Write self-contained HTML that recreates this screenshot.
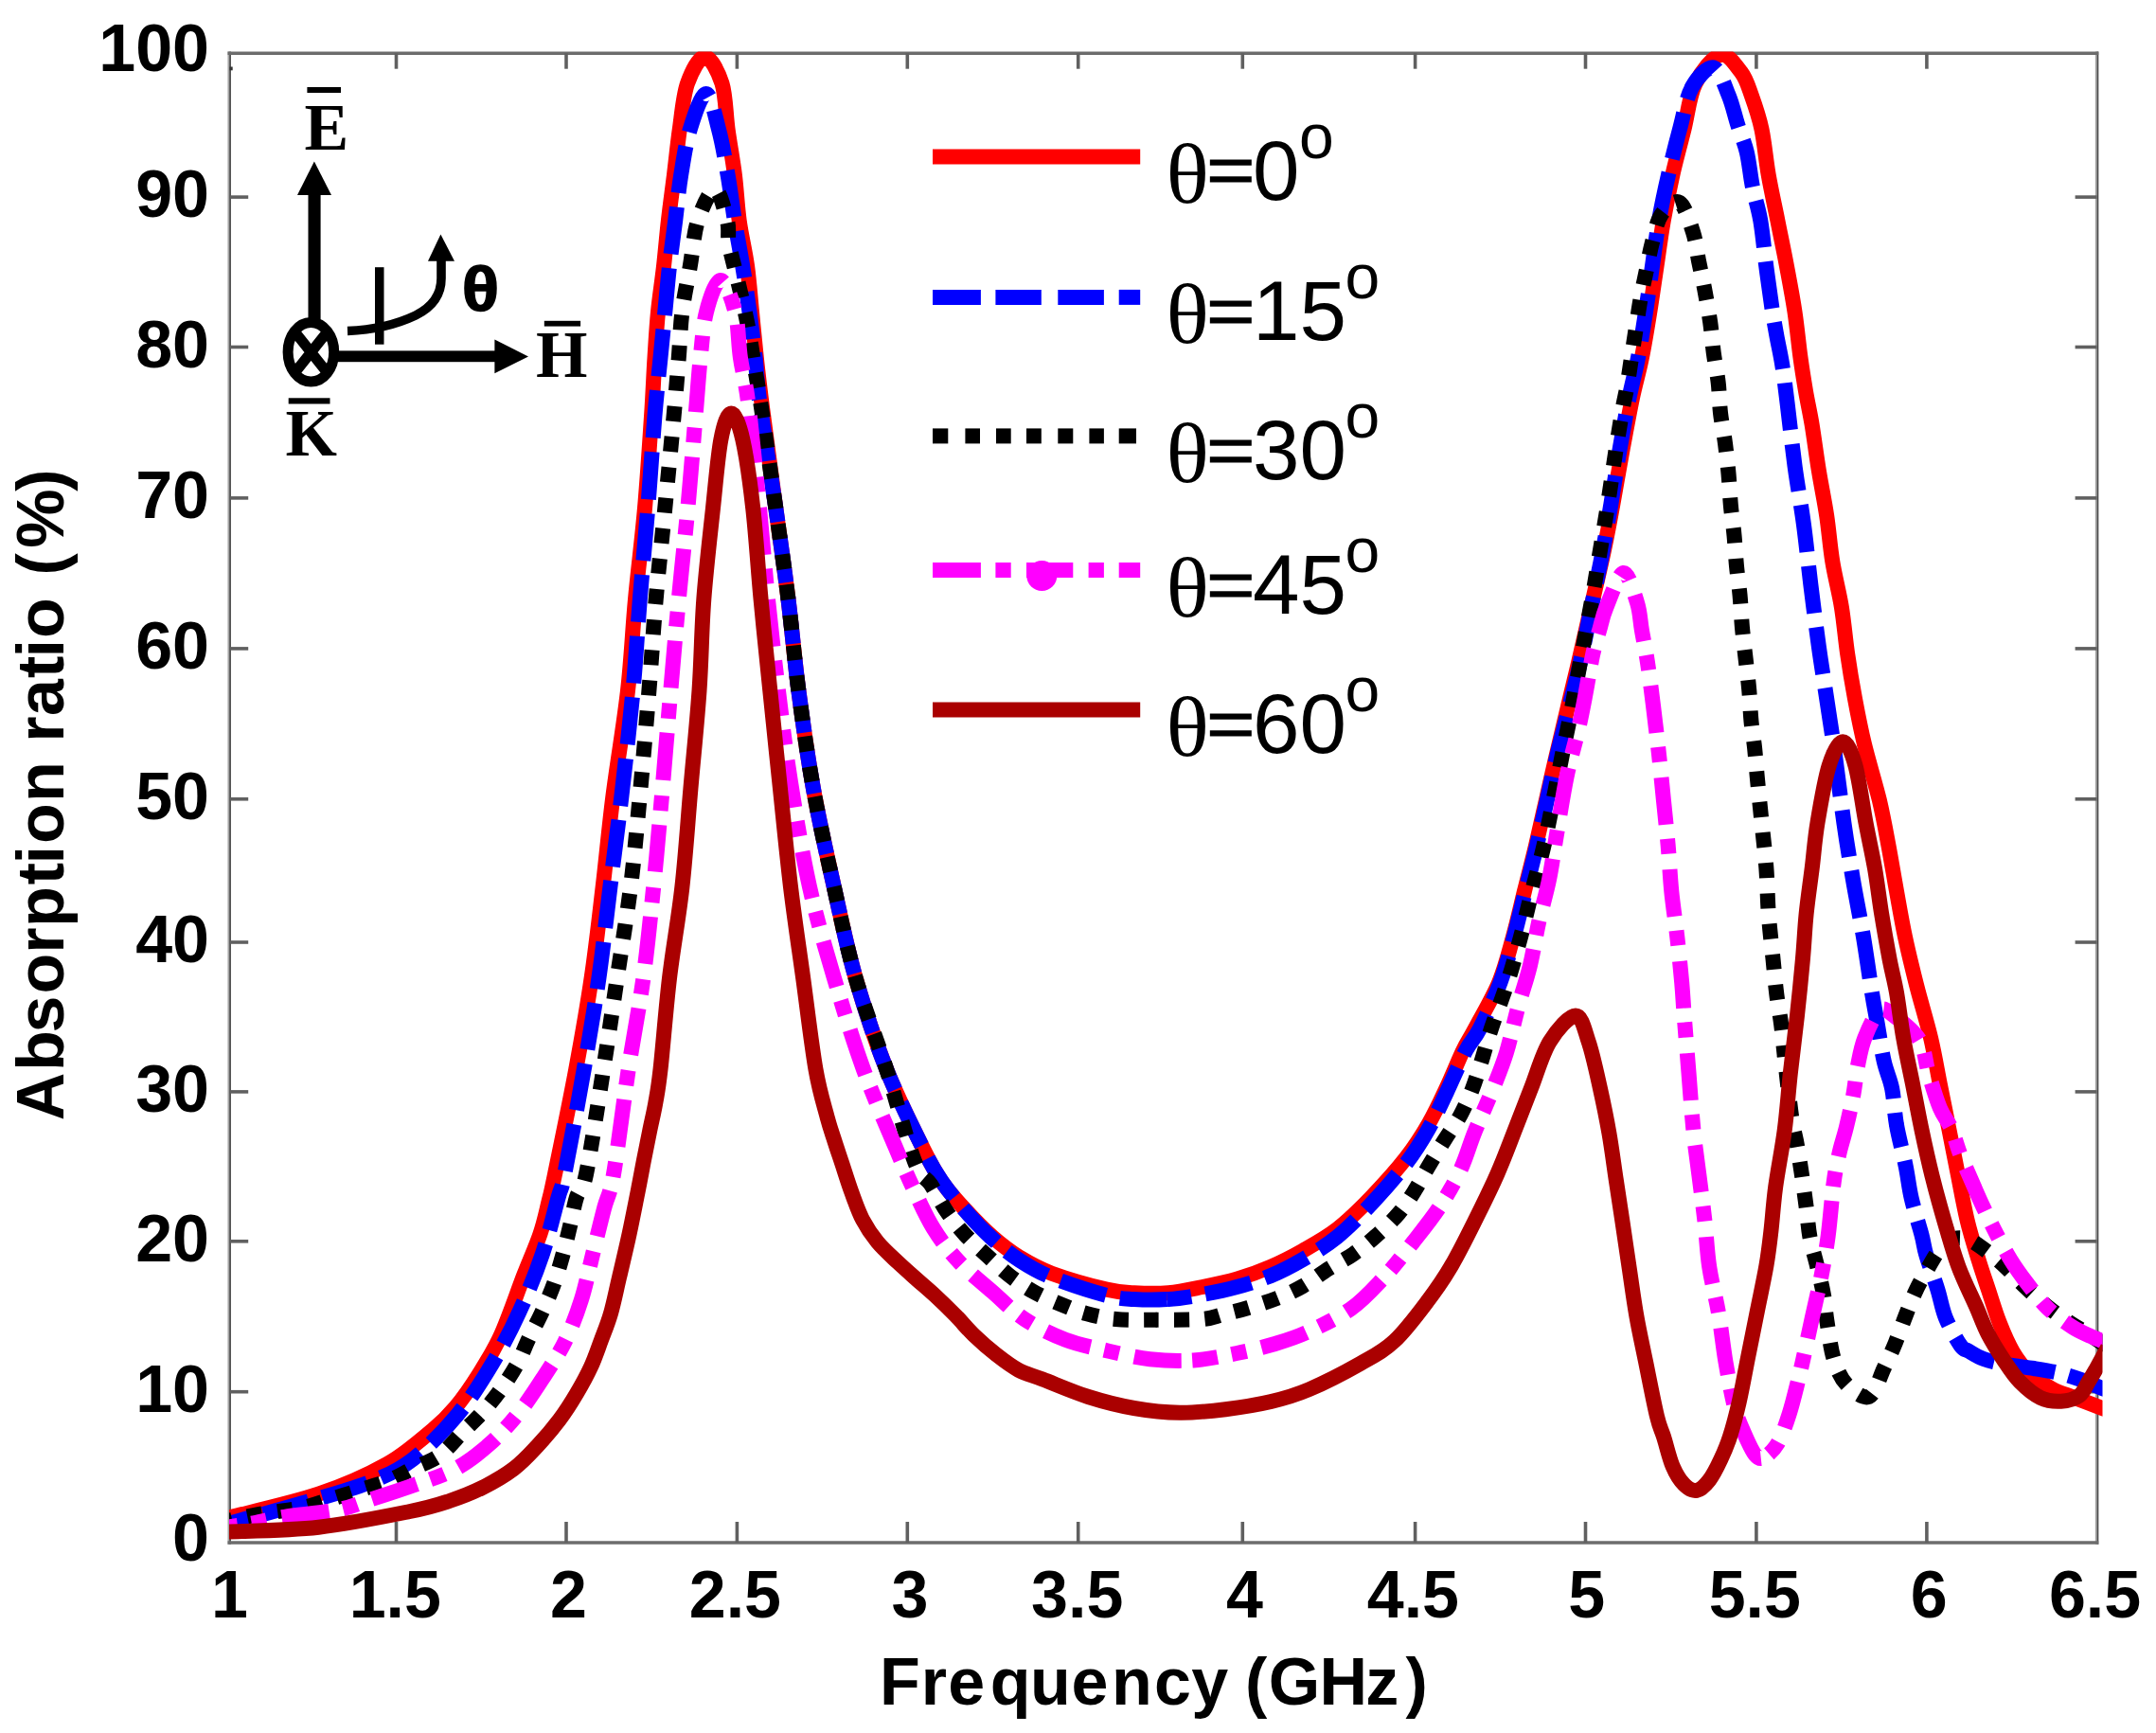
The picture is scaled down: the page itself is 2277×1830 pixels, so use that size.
<!DOCTYPE html>
<html><head><meta charset="utf-8"><title>Absorption ratio versus frequency</title>
<style>
html,body{margin:0;padding:0;background:#fff;}
svg{display:block;}
.b{font-family:"Liberation Sans",Arial,sans-serif;font-weight:bold;font-size:70px;fill:#000;}
.s{font-family:"Liberation Serif","Times New Roman",serif;font-weight:bold;font-size:70px;fill:#000;}
.lg{font-family:"Liberation Sans",Arial,sans-serif;font-size:89px;fill:#000;}
.th{font-family:"Liberation Serif","Times New Roman",serif;font-size:89px;fill:#000;}
.sup{font-family:"Liberation Sans",Arial,sans-serif;font-size:66px;fill:#000;}
.c{fill:none;stroke-width:16;stroke-linejoin:round;}
</style></head><body>
<svg width="2277" height="1830" viewBox="0 0 2277 1830">
<rect x="0" y="0" width="2277" height="1830" fill="#ffffff"/>
<defs><clipPath id="cp"><rect x="242" y="54.4" width="1978.5" height="1580"/></clipPath></defs>

<g stroke-width="1.8" fill="none">
<line x1="241.35" y1="54.5" x2="241.35" y2="1630.7" stroke="#a4a4a4"/>
<line x1="243.05" y1="54.5" x2="243.05" y2="1630.7" stroke="#4c4c4c"/>
<line x1="2213.75" y1="54.5" x2="2213.75" y2="1630.7" stroke="#a4a4a4"/>
<line x1="2215.45" y1="54.5" x2="2215.45" y2="1630.7" stroke="#4c4c4c"/>
</g>
<g stroke="#6c6c6c" stroke-width="3.4" fill="none">
<line x1="240.5" y1="56.2" x2="2216.3" y2="56.2"/>
<line x1="240.5" y1="1629.0" x2="2216.3" y2="1629.0"/>
</g>
<g stroke="#606060" stroke-width="3.6">
<line x1="418.5" y1="1629.0" x2="418.5" y2="1607.0"/>
<line x1="418.5" y1="56.2" x2="418.5" y2="72.7"/>
<line x1="598.0" y1="1629.0" x2="598.0" y2="1607.0"/>
<line x1="598.0" y1="56.2" x2="598.0" y2="72.7"/>
<line x1="778.4" y1="1629.0" x2="778.4" y2="1607.0"/>
<line x1="778.4" y1="56.2" x2="778.4" y2="72.7"/>
<line x1="958.3" y1="1629.0" x2="958.3" y2="1607.0"/>
<line x1="958.3" y1="56.2" x2="958.3" y2="72.7"/>
<line x1="1138.7" y1="1629.0" x2="1138.7" y2="1607.0"/>
<line x1="1138.7" y1="56.2" x2="1138.7" y2="72.7"/>
<line x1="1312.3" y1="1629.0" x2="1312.3" y2="1607.0"/>
<line x1="1312.3" y1="56.2" x2="1312.3" y2="72.7"/>
<line x1="1494.6" y1="1629.0" x2="1494.6" y2="1607.0"/>
<line x1="1494.6" y1="56.2" x2="1494.6" y2="72.7"/>
<line x1="1674.5" y1="1629.0" x2="1674.5" y2="1607.0"/>
<line x1="1674.5" y1="56.2" x2="1674.5" y2="72.7"/>
<line x1="1854.9" y1="1629.0" x2="1854.9" y2="1607.0"/>
<line x1="1854.9" y1="56.2" x2="1854.9" y2="72.7"/>
<line x1="2034.9" y1="1629.0" x2="2034.9" y2="1607.0"/>
<line x1="2034.9" y1="56.2" x2="2034.9" y2="72.7"/>
<line x1="242.2" y1="208.1" x2="262.2" y2="208.1"/>
<line x1="2214.6" y1="208.1" x2="2191.6" y2="208.1"/>
<line x1="242.2" y1="366.5" x2="262.2" y2="366.5"/>
<line x1="2214.6" y1="366.5" x2="2191.6" y2="366.5"/>
<line x1="242.2" y1="525.9" x2="262.2" y2="525.9"/>
<line x1="2214.6" y1="525.9" x2="2191.6" y2="525.9"/>
<line x1="242.2" y1="684.9" x2="262.2" y2="684.9"/>
<line x1="2214.6" y1="684.9" x2="2191.6" y2="684.9"/>
<line x1="242.2" y1="843.8" x2="262.2" y2="843.8"/>
<line x1="2214.6" y1="843.8" x2="2191.6" y2="843.8"/>
<line x1="242.2" y1="995.0" x2="262.2" y2="995.0"/>
<line x1="2214.6" y1="995.0" x2="2191.6" y2="995.0"/>
<line x1="242.2" y1="1152.9" x2="262.2" y2="1152.9"/>
<line x1="2214.6" y1="1152.9" x2="2191.6" y2="1152.9"/>
<line x1="242.2" y1="1310.8" x2="262.2" y2="1310.8"/>
<line x1="2214.6" y1="1310.8" x2="2191.6" y2="1310.8"/>
<line x1="242.2" y1="1469.7" x2="262.2" y2="1469.7"/>
<line x1="2214.6" y1="1469.7" x2="2191.6" y2="1469.7"/>
</g>
<rect x="242.5" y="70.5" width="3.2" height="3.8" fill="#333"/>
<g clip-path="url(#cp)">
<path class="c" stroke="#ff0000" d="M236.0,1604.0C236.7,1603.8 223.2,1607.4 240.0,1603.0C256.8,1598.6 308.4,1587.2 336.5,1577.7C364.6,1568.2 388.7,1557.3 408.8,1546.0C428.9,1534.7 444.9,1520.0 457.0,1510.0C469.1,1500.0 473.1,1495.7 481.2,1486.0C489.2,1476.3 497.3,1464.8 505.3,1452.0C513.3,1439.2 521.4,1426.7 529.4,1409.0C537.4,1391.3 546.6,1363.7 553.5,1346.0C560.4,1328.3 566.2,1315.8 570.5,1303.0C574.8,1290.2 576.9,1279.5 579.5,1269.0C582.1,1258.5 581.2,1263.3 586.0,1240.0C590.8,1216.7 601.8,1163.9 608.2,1129.4C614.6,1094.9 619.9,1065.2 624.6,1033.0C629.4,1000.9 632.9,968.7 636.7,936.5C640.5,904.3 643.1,874.5 647.5,840.0C651.9,805.5 659.1,763.9 663.0,729.4C666.9,694.9 668.0,665.1 671.0,633.0C674.0,600.9 678.2,568.7 681.0,536.5C683.8,504.3 686.2,466.5 688.0,440.0C689.8,413.5 690.3,396.1 691.5,377.7C692.7,359.3 693.4,345.5 695.0,329.4C696.6,313.3 699.2,297.3 701.0,281.2C702.8,265.1 704.1,249.1 705.9,233.0C707.7,216.9 710.0,200.8 712.0,184.7C714.0,168.6 715.5,152.6 717.8,136.5C720.1,120.4 721.5,101.0 726.0,88.2C730.5,75.5 738.4,60.0 744.5,60.0C750.6,60.0 758.5,75.5 762.5,88.2C766.5,101.0 766.4,120.4 768.6,136.5C770.8,152.6 773.9,168.6 775.9,184.7C777.9,200.8 778.5,216.9 780.7,233.0C782.9,249.1 786.9,265.1 789.1,281.2C791.3,297.3 792.4,313.3 794.0,329.4C795.6,345.5 797.0,360.9 798.8,377.7C800.6,394.5 801.6,403.5 805.0,430.0C808.4,456.5 814.7,502.7 819.3,536.5C823.9,570.3 828.5,600.9 832.5,633.0C836.5,665.1 839.0,696.1 843.4,729.4C847.8,762.7 852.8,798.5 859.0,833.0C865.2,867.5 873.3,903.2 880.8,936.5C888.2,969.8 894.5,1000.9 903.7,1033.0C913.0,1065.2 924.3,1099.2 936.3,1129.4C948.3,1159.7 966.0,1194.7 975.8,1214.5C985.6,1234.3 987.8,1237.8 995.0,1248.2C1002.2,1258.7 1010.4,1267.6 1019.2,1277.2C1028.0,1286.8 1038.4,1297.6 1048.0,1306.0C1057.6,1314.4 1066.5,1321.3 1077.0,1327.8C1087.5,1334.2 1095.5,1339.1 1110.8,1344.7C1126.1,1350.3 1154.2,1358.2 1168.7,1361.6C1183.2,1365.0 1186.9,1364.6 1197.7,1365.2C1208.5,1365.8 1221.8,1366.2 1233.8,1365.2C1245.8,1364.2 1257.9,1361.4 1270.0,1359.0C1282.1,1356.6 1294.1,1354.3 1306.2,1350.7C1318.3,1347.1 1330.8,1342.5 1342.4,1337.5C1354.0,1332.5 1364.3,1327.2 1376.0,1320.6C1387.7,1314.0 1400.3,1307.2 1412.4,1297.8C1424.5,1288.4 1436.5,1276.5 1448.5,1264.0C1460.5,1251.5 1474.7,1235.9 1484.7,1223.0C1494.8,1210.1 1501.6,1199.3 1508.8,1186.8C1516.0,1174.3 1522.0,1161.1 1528.0,1148.2C1534.0,1135.3 1540.0,1120.0 1545.0,1109.6C1550.0,1099.2 1551.7,1098.0 1558.0,1086.0C1564.3,1074.0 1576.3,1053.8 1583.0,1037.7C1589.7,1021.6 1593.5,1005.5 1598.0,989.4C1602.5,973.3 1606.0,957.1 1610.0,941.0C1614.0,924.9 1618.2,909.0 1622.0,893.0C1625.8,877.0 1629.3,860.8 1633.0,844.7C1636.7,828.6 1640.2,812.6 1644.0,796.5C1647.8,780.4 1651.7,764.1 1655.5,748.0C1659.3,731.9 1662.4,719.8 1667.0,700.0C1671.6,680.2 1678.7,648.8 1683.2,629.0C1687.7,609.2 1690.7,597.0 1694.0,581.0C1697.3,565.0 1700.0,550.8 1703.3,532.7C1706.6,514.6 1710.5,491.2 1714.0,472.4C1717.5,453.6 1720.7,435.8 1724.0,420.0C1727.3,404.2 1730.9,392.8 1733.9,377.7C1737.0,362.6 1739.7,345.5 1742.3,329.4C1744.9,313.3 1747.1,297.3 1749.5,281.2C1751.9,265.1 1754.0,249.1 1756.8,233.0C1759.6,216.9 1762.8,200.8 1766.4,184.7C1770.0,168.6 1774.5,152.6 1778.5,136.5C1782.5,120.4 1784.1,101.3 1790.5,88.2C1796.9,75.1 1809.0,60.0 1817.0,58.0C1825.0,56.0 1833.4,69.2 1838.8,76.2C1844.2,83.2 1846.0,90.2 1849.6,100.3C1853.2,110.3 1857.5,122.4 1860.5,136.5C1863.5,150.6 1864.9,168.6 1867.7,184.7C1870.5,200.8 1874.2,216.9 1877.4,233.0C1880.6,249.1 1884.0,265.1 1887.0,281.2C1890.0,297.3 1893.1,313.3 1895.5,329.4C1897.9,345.5 1899.6,363.8 1901.5,377.7C1903.4,391.6 1905.0,401.2 1907.0,413.0C1909.0,424.8 1911.3,434.3 1913.6,448.2C1915.9,462.1 1918.2,480.4 1920.8,496.5C1923.4,512.6 1926.8,528.6 1929.2,544.7C1931.6,560.8 1932.7,576.9 1935.3,593.0C1937.9,609.1 1942.3,625.1 1944.9,641.2C1947.5,657.3 1948.7,673.3 1951.0,689.4C1953.3,705.5 1956.0,721.6 1959.0,737.7C1962.0,753.8 1964.7,768.2 1969.0,786.0C1973.3,803.8 1980.5,826.9 1984.8,844.7C1989.0,862.5 1991.5,876.9 1994.5,893.0C1997.5,909.1 2000.1,925.1 2003.0,941.2C2005.9,957.3 2008.5,972.9 2012.0,989.4C2015.5,1005.9 2019.5,1022.1 2024.0,1040.0C2028.5,1057.8 2035.1,1079.0 2039.2,1096.5C2043.3,1114.0 2045.6,1128.6 2048.8,1144.7C2052.0,1160.8 2055.3,1176.9 2058.5,1193.0C2061.7,1209.1 2064.8,1225.1 2068.0,1241.2C2071.2,1257.3 2074.2,1274.4 2077.8,1289.4C2081.4,1304.4 2086.1,1318.9 2089.8,1331.0C2093.5,1343.1 2096.4,1351.1 2100.0,1362.0C2103.6,1372.9 2107.3,1385.5 2111.6,1396.5C2115.9,1407.5 2120.8,1419.0 2126.0,1427.8C2131.2,1436.6 2136.2,1443.1 2143.0,1449.5C2149.8,1455.9 2159.0,1462.0 2167.0,1466.4C2175.0,1470.8 2182.4,1472.6 2191.2,1476.0C2200.0,1479.4 2214.2,1484.8 2220.0,1487.0C2225.8,1489.2 2225.0,1488.7 2226.0,1489.0"/>
<path class="c" id="blueA" stroke="#0000ff" stroke-dasharray="50 15" stroke-dashoffset="21.5" d="M236.0,1610.0C238.3,1609.4 235.7,1610.4 249.6,1606.6C263.5,1602.8 296.3,1594.1 319.6,1587.3C342.9,1580.5 370.2,1573.2 389.5,1565.6C408.8,1558.0 419.7,1553.5 435.4,1541.5C451.1,1529.5 469.5,1510.2 483.6,1493.3C497.7,1476.4 508.9,1458.3 519.8,1440.2C530.6,1422.1 539.9,1404.0 548.7,1384.7C557.5,1365.4 566.0,1344.5 572.8,1324.4C579.6,1304.3 585.8,1278.1 589.7,1264.0C593.6,1249.9 591.7,1262.4 596.2,1240.0C600.7,1217.6 610.7,1163.9 616.7,1129.4C622.7,1094.9 627.8,1065.2 632.4,1033.0C637.0,1000.9 640.4,968.7 644.4,936.5C648.4,904.3 652.5,874.5 656.5,840.0C660.5,805.5 665.3,763.9 668.5,729.4C671.7,694.9 673.2,665.1 675.8,633.0C678.4,600.9 681.6,568.7 684.2,536.5C686.8,504.3 689.2,466.5 691.4,440.0C693.6,413.5 695.7,396.1 697.5,377.7C699.3,359.3 700.7,345.5 702.3,329.4C703.9,313.3 705.2,297.3 707.0,281.2C708.8,265.1 711.2,249.1 713.2,233.0C715.2,216.9 716.6,200.8 719.2,184.7C721.8,168.6 724.4,150.8 728.8,136.5C733.2,122.2 740.7,99.0 745.7,99.0C750.7,99.0 755.2,122.2 759.0,136.5C762.8,150.8 765.8,168.6 768.6,184.7C771.4,200.8 773.3,216.9 775.9,233.0C778.5,249.1 781.7,265.1 784.3,281.2C786.9,297.3 789.3,313.3 791.5,329.4C793.7,345.5 795.8,361.6 797.6,377.7C799.4,393.8 798.8,399.5 802.4,426.0C806.0,452.5 814.3,502.0 819.3,536.5C824.3,571.0 828.5,600.9 832.5,633.0C836.5,665.1 839.0,696.1 843.4,729.4"/>
<path class="c" id="blueB" stroke="#0000ff" stroke-dasharray="50 15" stroke-dashoffset="4.0" d="M843.24,728.21L843.4,729.4C847.8,762.7 852.8,798.5 859.0,833.0C865.2,867.5 873.3,903.2 880.8,936.5C888.2,969.8 894.5,1000.9 903.7,1033.0C913.0,1065.2 924.3,1099.2 936.3,1129.4C948.3,1159.7 966.0,1194.7 975.8,1214.5C985.6,1234.3 987.8,1237.4 995.0,1248.0C1002.2,1258.6 1010.2,1268.0 1019.0,1278.0C1027.8,1288.0 1038.3,1299.2 1048.0,1308.0C1057.7,1316.8 1066.5,1324.2 1077.0,1331.0C1087.5,1337.8 1095.5,1342.8 1110.8,1349.0C1126.1,1355.2 1154.2,1364.2 1168.7,1368.0C1183.2,1371.8 1186.9,1371.3 1197.7,1372.0C1208.5,1372.7 1221.8,1372.8 1233.8,1372.0"/>
<path class="c" id="blueC" stroke="#0000ff" stroke-dasharray="50 15" stroke-dashoffset="24.2" d="M1232.60,1372.08L1233.8,1372.0C1245.8,1371.2 1257.9,1369.2 1270.0,1367.0C1282.1,1364.8 1294.1,1362.3 1306.2,1359.0C1318.3,1355.7 1330.8,1351.8 1342.4,1347.0C1354.0,1342.2 1364.3,1336.8 1376.0,1330.0C1387.7,1323.2 1400.3,1315.8 1412.4,1306.0C1424.5,1296.2 1436.5,1283.8 1448.5,1271.0C1460.5,1258.2 1474.7,1242.2 1484.7,1229.0C1494.8,1215.8 1501.6,1204.7 1508.8,1192.0C1516.0,1179.3 1521.5,1166.7 1528.0,1153.0C1534.5,1139.3 1542.2,1120.8 1548.0,1109.6C1553.8,1098.4 1556.9,1098.0 1563.0,1086.0C1569.1,1074.0 1578.4,1053.8 1584.4,1037.7C1590.4,1021.6 1594.5,1005.5 1598.9,989.4C1603.3,973.3 1607.0,957.1 1611.0,941.0C1615.0,924.9 1619.2,909.0 1623.0,893.0C1626.8,877.0 1630.3,860.8 1633.9,844.7C1637.5,828.6 1640.9,812.6 1644.7,796.5C1648.5,780.4 1653.0,764.1 1657.0,748.0C1661.0,731.9 1664.4,719.8 1668.8,700.0C1673.2,680.2 1679.2,648.8 1683.2,629.0C1687.2,609.2 1689.9,597.0 1692.9,581.0C1695.9,565.0 1698.3,550.8 1701.3,532.7C1704.3,514.6 1707.8,491.2 1711.0,472.4C1714.2,453.6 1717.4,435.8 1720.6,420.0C1723.8,404.2 1727.1,392.8 1730.0,377.7C1732.9,362.6 1735.5,345.5 1738.0,329.4C1740.5,313.3 1742.7,297.3 1745.0,281.2C1747.3,265.1 1749.2,249.1 1752.0,233.0C1754.8,216.9 1758.3,200.8 1762.0,184.7C1765.7,168.6 1769.8,151.9 1774.0,136.5C1778.2,121.0 1781.0,102.8 1787.0,92.0C1793.0,81.2 1803.4,70.0 1809.8,71.4C1816.2,72.8 1821.3,90.2 1825.5,100.3C1829.7,110.3 1832.0,121.6 1835.2,131.7C1838.4,141.8 1842.2,149.8 1844.8,160.6C1847.4,171.4 1848.4,184.7 1850.8,196.8C1853.2,208.9 1856.9,218.9 1859.3,233.0C1861.7,247.1 1863.3,265.9 1865.3,281.2C1867.3,296.5 1869.5,312.5 1871.3,324.6C1873.1,336.7 1874.4,343.5 1876.2,353.6C1878.0,363.7 1880.3,373.1 1882.2,385.0C1884.1,396.9 1885.3,407.2 1887.5,425.0C1889.7,442.8 1892.6,470.1 1895.5,491.7C1898.4,513.3 1902.2,533.5 1905.0,554.4C1907.8,575.3 1909.7,595.7 1912.3,617.0C1914.9,638.3 1918.2,663.4 1920.8,682.2C1923.4,701.0 1925.3,712.0 1928.0,730.0C1930.7,748.0 1933.8,766.9 1937.0,790.0C1940.2,813.1 1944.1,845.6 1947.4,868.8C1950.7,892.0 1953.6,908.9 1957.0,929.0C1960.4,949.1 1964.7,969.5 1968.0,989.4C1971.3,1009.3 1974.6,1033.2 1977.0,1048.2C1979.4,1063.2 1980.4,1067.5 1982.5,1079.6C1984.6,1091.7 1987.1,1108.9 1989.7,1120.6C1992.3,1132.3 1996.0,1138.4 1998.2,1149.6C2000.4,1160.8 2000.6,1174.3 2003.0,1188.0"/>
<path class="c" id="blueD" stroke="#0000ff" stroke-dasharray="50 15" stroke-dashoffset="25.2" d="M2002.79,1186.82L2003.0,1188.0C2005.4,1201.7 2010.1,1218.6 2012.7,1231.5C2015.3,1244.4 2015.9,1253.2 2018.7,1265.3C2021.5,1277.4 2026.9,1294.0 2029.5,1304.0C2032.1,1314.0 2031.6,1316.0 2034.4,1325.6C2037.2,1335.2 2043.0,1350.7 2046.4,1361.8C2049.8,1372.9 2051.0,1382.2 2055.0,1392.0C2059.0,1401.8 2066.5,1414.8 2070.5,1420.6C2074.5,1426.4 2074.9,1424.2 2079.0,1426.6C2083.1,1429.0 2088.2,1432.6 2095.0,1435.0C2101.8,1437.4 2111.2,1439.3 2120.0,1441.0C2128.8,1442.7 2138.8,1443.5 2148.0,1445.0C2157.2,1446.5 2166.7,1448.0 2175.0,1450.0C2183.3,1452.0 2190.5,1454.3 2198.0,1457.0C2205.5,1459.7 2215.3,1464.2 2220.0,1466.0C2224.7,1467.8 2225.0,1467.7 2226.0,1468.0"/>
<path class="c" id="blackA" stroke="#000000" stroke-dasharray="16 16.3" stroke-dashoffset="6.4" d="M236.0,1607.0C241.9,1605.7 257.5,1601.9 271.4,1599.4C285.3,1596.9 306.3,1594.8 319.6,1592.0C332.9,1589.2 340.6,1585.7 351.0,1582.5C361.4,1579.3 372.2,1576.0 382.3,1572.8C392.4,1569.6 402.5,1566.8 411.3,1563.2C420.1,1559.6 426.6,1555.4 435.4,1551.0C444.2,1546.6 455.5,1543.1 464.3,1536.7C473.1,1530.3 480.8,1520.2 488.4,1512.5C496.0,1504.8 503.2,1498.4 510.0,1490.8C516.8,1483.2 523.4,1475.1 529.4,1466.7C535.4,1458.3 541.5,1449.0 546.3,1440.2C551.1,1431.4 554.0,1423.0 558.4,1413.7C562.8,1404.5 568.4,1394.4 572.8,1384.7C577.2,1375.0 581.4,1365.8 585.0,1355.8C588.6,1345.8 591.8,1334.5 594.6,1324.4C597.4,1314.4 599.4,1305.6 601.8,1295.5C604.2,1285.4 606.1,1273.2 609.0,1264.0C611.9,1254.8 614.3,1262.4 619.0,1240.0C623.7,1217.6 631.8,1163.9 637.2,1129.4C642.7,1094.9 646.9,1065.2 651.7,1033.0C656.5,1000.9 662.0,968.7 666.0,936.5C670.0,904.3 672.6,874.5 675.8,840.0C679.0,805.5 682.6,763.9 685.4,729.4C688.2,694.9 689.9,665.1 692.7,633.0C695.5,600.9 699.1,569.5 702.3,536.5C705.5,503.5 709.6,461.5 712.0,435.0C714.4,408.5 715.4,395.3 716.8,377.7C718.2,360.1 718.4,345.5 720.4,329.4C722.4,313.3 726.0,297.3 728.8,281.2C731.6,265.1 732.6,246.5 737.0,233.0C741.4,219.5 749.8,200.0 755.0,200.0C760.2,200.0 765.5,223.5 768.0,233.0C770.5,242.5 768.1,247.0 769.8,257.0C771.5,267.0 775.1,279.2 778.3,293.0C781.5,306.8 785.9,324.2 789.0,340.0C792.1,355.8 794.5,373.0 797.0,388.0C799.5,403.0 800.3,405.2 804.0,430.0C807.7,454.8 814.5,502.7 819.3,536.5C824.0,570.3 828.5,600.9 832.5,633.0C836.5,665.1 839.0,696.1 843.4,729.4C847.8,762.7 852.8,798.5 859.0,833.0C865.2,867.5 873.3,903.2 880.8,936.5C888.2,969.8 894.5,1000.9 903.7,1033.0C913.0,1065.2 925.9,1097.2 936.3,1129.4C946.7,1161.7 958.2,1206.3 966.0,1226.5C973.8,1246.7 977.3,1241.9 983.0,1250.7C988.7,1259.5 994.0,1270.8 1000.0,1279.6C1006.0,1288.4 1012.0,1295.9 1019.2,1303.7C1026.4,1311.5 1035.5,1319.4 1043.3,1326.6C1051.1,1333.8 1058.2,1340.8 1066.2,1347.0C1074.2,1353.2 1082.5,1359.0 1091.5,1364.0C1100.5,1369.0 1111.2,1373.5 1120.5,1377.3C1129.8,1381.1 1137.3,1384.4 1147.0,1387.0C1156.7,1389.6 1165.9,1391.9 1178.4,1393.0C1190.9,1394.1 1206.5,1393.7 1221.8,1393.7"/>
<path class="c" id="blackB" stroke="#000000" stroke-dasharray="16 16.3" stroke-dashoffset="12.9" d="M1220.60,1393.70L1221.8,1393.7C1237.1,1393.7 1258.3,1394.0 1270.0,1393.0C1281.7,1392.0 1283.7,1390.0 1291.7,1388.0C1299.8,1386.0 1308.7,1383.9 1318.3,1381.0C1327.9,1378.1 1339.9,1374.4 1349.6,1370.6C1359.2,1366.8 1367.3,1363.1 1376.2,1358.0C1385.1,1352.9 1393.9,1345.6 1402.7,1340.0C1411.5,1334.4 1420.8,1330.1 1429.2,1324.3C1437.7,1318.5 1445.4,1312.2 1453.4,1305.0C1461.5,1297.8 1470.7,1289.0 1477.5,1281.0C1484.3,1273.0 1489.2,1265.1 1494.4,1256.8C1499.6,1248.5 1503.6,1240.2 1508.8,1231.4C1514.0,1222.6 1520.1,1212.7 1525.7,1203.7C1531.3,1194.7 1537.8,1186.1 1542.6,1177.2C1547.4,1168.3 1551.1,1159.8 1554.7,1150.6C1558.3,1141.3 1560.9,1132.5 1564.3,1121.7C1567.7,1110.9 1570.4,1100.0 1575.0,1086.0C1579.6,1072.0 1586.8,1053.8 1592.0,1037.7C1597.2,1021.6 1601.7,1005.5 1606.0,989.4C1610.3,973.3 1613.9,957.1 1618.0,941.0C1622.1,924.9 1626.8,909.0 1630.5,893.0C1634.2,877.0 1637.2,860.8 1640.5,844.7C1643.8,828.6 1646.8,812.6 1650.0,796.5C1653.2,780.4 1656.9,764.1 1660.0,748.0C1663.1,731.9 1665.1,719.8 1668.8,700.0C1672.5,680.2 1678.5,648.8 1682.0,629.0C1685.5,609.2 1687.3,597.0 1690.0,581.0C1692.7,565.0 1695.2,550.8 1698.0,532.7C1700.8,514.6 1704.3,489.5 1707.0,472.4C1709.7,455.3 1712.1,440.6 1714.0,430.0C1715.9,419.4 1716.7,417.7 1718.2,409.0C1719.7,400.3 1721.4,388.1 1723.0,377.7C1724.6,367.2 1726.2,356.8 1727.8,346.3C1729.4,335.9 1730.9,325.1 1732.7,315.0C1734.5,304.9 1736.7,295.7 1738.7,286.0C1740.7,276.3 1742.1,266.8 1744.7,257.0C1747.3,247.2 1749.6,234.2 1754.4,227.0C1759.2,219.8 1768.1,210.7 1773.7,213.7C1779.3,216.7 1784.6,234.6 1788.0,245.0C1791.4,255.4 1792.2,266.3 1794.2,276.4C1796.2,286.4 1798.2,294.6 1800.2,305.3C1802.2,316.0 1804.6,329.1 1806.2,340.3C1807.8,351.6 1808.4,362.2 1809.8,372.8C1811.2,383.4 1813.5,393.7 1814.7,404.2C1815.9,414.7 1815.8,425.4 1817.0,436.0C1818.2,446.6 1820.5,456.8 1821.9,467.5C1823.3,478.2 1824.5,488.9 1825.5,500.0C1826.5,511.1 1826.9,523.0 1827.9,533.9C1828.9,544.8 1830.5,554.6 1831.5,565.2C1832.5,575.9 1833.0,587.2 1834.0,597.8C1835.0,608.4 1836.6,618.1 1837.6,629.0C1838.6,639.9 1839.0,651.9 1840.0,663.0C1841.0,674.1 1842.4,684.7 1843.6,695.5C1844.8,706.3 1846.2,717.0 1847.2,728.0C1848.2,739.0 1848.5,751.3 1849.5,761.8C1850.5,772.2 1852.2,780.9 1853.2,790.7C1854.2,800.5 1854.6,807.6 1855.8,820.6C1857.0,833.6 1859.0,852.7 1860.6,868.8C1862.2,884.9 1864.2,900.9 1865.4,917.0C1866.6,933.1 1866.6,949.2 1867.8,965.3C1869.0,981.4 1871.2,999.4 1872.6,1013.5C1874.0,1027.6 1874.9,1038.3 1876.3,1049.7C1877.7,1061.1 1879.8,1071.0 1881.2,1082.0C1882.6,1093.0 1883.0,1099.7 1884.8,1115.8"/>
<path class="c" id="blackC" stroke="#000000" stroke-dasharray="16 16.3" stroke-dashoffset="15.4" d="M1884.67,1114.61L1884.8,1115.8C1886.6,1131.9 1889.8,1162.8 1892.0,1178.5C1894.2,1194.2 1896.2,1199.4 1898.0,1209.8C1899.8,1220.2 1901.4,1230.1 1903.0,1241.0C1904.6,1251.9 1906.3,1264.2 1907.7,1275.0C1909.1,1285.8 1909.6,1296.0 1911.4,1306.0C1913.2,1316.0 1916.2,1324.9 1918.6,1335.0C1921.0,1345.1 1924.0,1356.5 1925.8,1366.6C1927.6,1376.7 1927.7,1384.2 1929.5,1395.6C1931.3,1407.0 1933.3,1424.0 1936.7,1435.0C1940.1,1446.0 1943.8,1454.9 1950.0,1461.6C1956.2,1468.2 1967.4,1477.7 1974.0,1474.9C1980.6,1472.1 1985.1,1454.2 1989.7,1444.7C1994.3,1435.2 1998.0,1427.3 2001.8,1418.0C2005.6,1408.7 2009.1,1398.2 2012.7,1389.0C2016.3,1379.8 2019.3,1371.5 2023.5,1362.7C2027.7,1353.9 2033.6,1343.5 2038.0,1336.0C2042.4,1328.5 2045.5,1322.7 2050.0,1318.0C2054.5,1313.3 2060.3,1309.5 2065.0,1308.0C2069.7,1306.5 2073.7,1307.7 2078.0,1309.0C2082.3,1310.3 2085.0,1311.8 2091.0,1316.0C2097.0,1320.2 2105.8,1326.7 2114.0,1334.0C2122.2,1341.3 2131.2,1351.8 2140.0,1360.0C2148.8,1368.2 2158.5,1376.8 2167.0,1383.5C2175.5,1390.2 2184.7,1395.9 2191.0,1400.0C2197.3,1404.1 2200.2,1405.0 2205.0,1408.0C2209.8,1411.0 2216.5,1415.8 2220.0,1418.0C2223.5,1420.2 2225.0,1420.5 2226.0,1421.0"/>
<path class="c" id="magentaA" stroke="#ff00ff" stroke-dasharray="50 15 16 16.5" stroke-dashoffset="34.8" d="M236.0,1613.0C240.7,1612.3 253.3,1610.9 264.0,1609.0C274.7,1607.1 285.0,1604.2 300.3,1601.8C315.6,1599.4 340.1,1597.8 355.8,1594.6C371.5,1591.4 380.7,1586.9 394.4,1582.5C408.1,1578.1 423.3,1573.2 437.8,1568.0C452.3,1562.8 467.9,1558.2 481.2,1551.0C494.5,1543.8 506.1,1534.6 517.4,1524.6C528.6,1514.6 539.1,1502.8 548.7,1490.8C558.4,1478.8 567.2,1464.8 575.3,1452.3C583.3,1439.8 590.6,1429.3 597.0,1416.0C603.4,1402.7 609.1,1388.0 613.9,1372.7C618.7,1357.4 622.0,1340.5 626.0,1324.4C630.0,1308.3 634.3,1290.3 638.0,1276.2C641.7,1262.1 643.7,1264.5 648.0,1240.0C652.3,1215.5 658.5,1163.9 663.7,1129.4C668.9,1094.9 675.0,1065.2 679.4,1033.0C683.8,1000.9 686.9,968.7 690.2,936.5C693.5,904.3 696.0,874.5 699.0,840.0C702.0,805.5 705.3,763.9 708.3,729.4C711.3,694.9 713.8,665.1 716.8,633.0C719.8,600.9 723.4,569.5 726.4,536.5C729.4,503.5 732.7,461.5 734.9,435.0C737.1,408.5 737.9,395.3 739.7,377.7C741.6,360.1 742.5,343.0 746.0,329.4C749.5,315.8 755.9,296.0 761.0,296.0C766.1,296.0 773.0,315.8 776.5,329.4C780.0,343.0 779.6,361.6 781.9,377.7C784.2,393.8 786.9,399.5 790.3,426.0C793.6,452.5 798.5,502.0 802.0,536.5C805.5,571.0 807.7,600.9 811.0,633.0C814.3,665.1 818.0,697.2 822.0,729.4"/>
<path class="c" id="magentaB" stroke="#ff00ff" stroke-dasharray="50 15 16 16.5" stroke-dashoffset="22.0" d="M821.85,728.21L822.0,729.4C826.0,761.6 829.5,791.5 835.0,826.0C840.5,860.5 847.3,902.0 855.0,936.5C862.7,971.0 871.5,1000.9 881.0,1033.0C890.5,1065.2 901.2,1099.6 912.0,1129.4C922.8,1159.2 937.4,1191.4 946.0,1212.0C954.6,1232.6 957.1,1238.9 963.7,1253.0C970.3,1267.1 977.4,1283.4 985.4,1296.5C993.4,1309.6 1001.6,1320.2 1012.0,1331.5C1022.4,1342.8 1036.3,1353.8 1048.0,1364.0C1059.7,1374.2 1069.1,1384.5 1082.0,1393.0C1094.9,1401.5 1110.5,1409.1 1125.3,1414.7C1140.1,1420.3 1156.1,1423.3 1171.0,1426.7C1185.9,1430.1 1199.6,1433.6 1214.5,1435.2C1229.4,1436.8 1245.1,1437.4 1260.4,1436.4"/>
<path class="c" id="magentaC" stroke="#ff00ff" stroke-dasharray="50 15 16 16.5" stroke-dashoffset="23.2" d="M1259.20,1436.48L1260.4,1436.4C1275.7,1435.4 1292.1,1431.8 1306.2,1429.0C1320.3,1426.2 1332.5,1423.2 1344.8,1419.5C1357.1,1415.8 1366.3,1413.2 1380.0,1407.0C1393.7,1400.8 1413.4,1391.5 1426.8,1382.0C1440.2,1372.5 1449.7,1361.6 1460.6,1350.0C1471.5,1338.4 1482.0,1324.9 1492.0,1312.2C1502.0,1299.5 1512.5,1286.6 1520.9,1273.7C1529.3,1260.8 1536.6,1247.9 1542.6,1235.0C1548.6,1222.1 1551.4,1210.6 1557.0,1196.5C1562.6,1182.4 1570.8,1164.7 1576.4,1150.6C1582.0,1136.5 1586.2,1126.8 1590.8,1112.0C1595.3,1097.2 1599.5,1077.1 1603.7,1061.8C1607.9,1046.5 1612.2,1034.9 1615.8,1020.0C1619.4,1005.1 1622.0,987.7 1625.4,972.5C1628.8,957.3 1632.9,944.2 1636.0,929.0C1639.1,913.8 1640.9,899.1 1644.0,881.0C1647.1,862.9 1650.8,838.7 1654.5,820.6C1658.2,802.5 1663.2,786.2 1666.4,772.4C1669.6,758.6 1671.0,751.1 1673.6,737.7C1676.2,724.3 1679.4,704.0 1682.0,691.9C1684.6,679.8 1686.8,673.8 1689.2,665.3C1691.6,656.8 1692.3,651.2 1696.5,641.2C1700.7,631.2 1709.2,605.8 1714.6,605.0C1720.0,604.2 1725.8,626.4 1729.0,636.4C1732.2,646.4 1732.1,654.9 1733.9,665.3C1735.7,675.7 1737.9,685.7 1739.9,699.0C1741.9,712.3 1744.0,728.8 1746.0,745.0C1748.0,761.2 1750.2,779.9 1752.0,796.5C1753.8,813.1 1755.3,828.6 1756.9,844.7C1758.5,860.8 1760.3,876.9 1761.7,893.0C1763.1,909.1 1763.7,925.1 1765.3,941.2C1766.9,957.3 1769.5,973.3 1771.3,989.4C1773.1,1005.5 1775.0,1023.9 1776.2,1037.7C1777.4,1051.5 1777.5,1056.6 1778.7,1072.4C1779.9,1088.2 1781.9,1112.6 1783.5,1132.7C1785.1,1152.8 1786.6,1175.0 1788.4,1193.0C1790.2,1211.0 1792.4,1225.0 1794.4,1241.0C1796.4,1257.0 1798.6,1272.9 1800.4,1289.0C1802.2,1305.1 1802.8,1321.5 1805.2,1337.7C1807.6,1353.9 1812.0,1369.3 1814.9,1386.0C1817.8,1402.7 1819.6,1421.0 1822.4,1437.7C1825.2,1454.4 1828.8,1473.6 1832.0,1486.0C1835.2,1498.4 1837.8,1503.7 1841.4,1512.0C1845.0,1520.3 1849.9,1531.5 1853.5,1536.0C1857.1,1540.5 1859.0,1541.0 1863.0,1539.0"/>
<path class="c" id="magentaD" stroke="#ff00ff" stroke-dasharray="50 15 16 16.5" stroke-dashoffset="57.2" d="M1861.93,1539.53L1863.0,1539.0C1867.0,1537.0 1873.1,1531.7 1877.6,1524.0C1882.0,1516.3 1886.1,1504.2 1889.7,1493.0C1893.3,1481.8 1896.5,1468.1 1899.3,1456.8C1902.1,1445.5 1904.1,1436.2 1906.5,1425.4C1908.9,1414.6 1911.0,1404.6 1913.8,1391.7C1916.6,1378.8 1920.6,1362.5 1923.4,1348.0C1926.2,1333.5 1928.5,1321.6 1930.7,1305.0C1932.9,1288.4 1934.7,1263.1 1936.7,1248.4C1938.7,1233.7 1940.5,1226.7 1942.7,1217.0C1944.9,1207.3 1947.6,1200.0 1950.0,1190.0C1952.4,1180.0 1955.2,1167.6 1957.2,1156.8C1959.2,1146.0 1960.0,1135.5 1962.0,1125.4C1964.0,1115.4 1965.4,1106.2 1969.2,1096.5C1973.0,1086.8 1979.9,1071.0 1985.0,1067.0"/>
<path class="c" id="magentaE" stroke="#ff00ff" stroke-dasharray="50 15 16 16.5" stroke-dashoffset="91.5" d="M1984.05,1067.74L1985.0,1067.0C1990.1,1063.0 1993.0,1067.2 2000.0,1072.4C2007.0,1077.6 2020.8,1087.7 2027.0,1098.0C2033.2,1108.3 2033.4,1122.0 2037.0,1134.0C2040.6,1146.0 2044.8,1160.3 2048.8,1170.0C2052.8,1179.7 2057.4,1183.8 2061.0,1192.0C2064.6,1200.2 2066.5,1209.3 2070.5,1219.5C2074.5,1229.7 2081.0,1244.0 2085.0,1253.3C2089.0,1262.5 2090.7,1266.5 2094.7,1275.0C2098.7,1283.5 2104.2,1294.8 2109.0,1304.0C2113.8,1313.2 2118.3,1322.0 2123.6,1330.4C2128.8,1338.8 2134.1,1346.2 2140.5,1354.6C2146.9,1363.0 2154.2,1373.2 2162.2,1381.0C2170.2,1388.8 2181.1,1396.3 2188.7,1401.3C2196.3,1406.3 2202.8,1408.6 2208.0,1411.0C2213.2,1413.4 2217.0,1414.6 2220.0,1415.8C2223.0,1417.0 2225.0,1417.6 2226.0,1418.0"/>
<path class="c" stroke="#aa0000" d="M236.0,1617.7C236.7,1617.7 223.2,1618.3 240.0,1617.5C256.8,1616.7 304.3,1616.3 336.5,1612.7C368.7,1609.1 410.0,1600.6 433.0,1596.0C456.0,1591.4 461.9,1589.2 474.6,1585.0C487.3,1580.8 498.0,1576.7 509.3,1571.0C520.6,1565.3 532.8,1558.3 542.5,1551.0C552.2,1543.7 559.3,1535.7 567.4,1527.0C575.5,1518.3 584.1,1508.2 591.0,1499.0C597.9,1489.8 603.5,1480.8 609.0,1471.5C614.5,1462.2 619.9,1452.4 624.2,1443.0C628.5,1433.6 631.5,1424.3 635.0,1415.0C638.5,1405.7 641.8,1398.0 645.0,1387.0C648.2,1376.0 650.7,1363.0 654.0,1349.0C657.3,1335.0 661.3,1318.3 664.6,1303.0C667.9,1287.7 671.3,1270.0 673.9,1257.0C676.5,1244.0 678.0,1235.3 680.0,1225.0C682.0,1214.7 684.0,1205.1 686.0,1195.0C688.0,1184.9 690.4,1175.5 692.3,1164.6C694.2,1153.7 695.0,1151.3 697.5,1129.4C700.0,1107.5 703.2,1065.2 707.0,1033.0C710.8,1000.9 716.7,969.8 720.4,936.5C724.1,903.2 726.4,867.5 729.4,833.0C732.4,798.5 736.2,762.7 738.5,729.4C740.8,696.1 740.9,665.1 743.3,633.0C745.7,600.9 750.0,564.7 753.0,536.5C756.0,508.3 758.2,480.7 761.4,464.0C764.6,447.3 768.5,436.5 772.3,436.5C776.1,436.5 780.5,447.3 784.3,464.0C788.1,480.7 792.0,508.3 795.2,536.5C798.4,564.7 800.6,600.9 803.6,633.0C806.6,665.1 809.9,696.1 813.3,729.4C816.7,762.7 820.4,798.5 824.0,833.0C827.6,867.5 831.0,903.2 835.0,936.5C839.0,969.8 843.8,1000.9 848.2,1033.0C852.6,1065.2 857.2,1104.9 861.5,1129.4C865.8,1153.9 870.4,1167.3 873.7,1180.0C877.1,1192.7 879.0,1197.3 881.6,1205.5C884.2,1213.7 886.5,1220.2 889.4,1229.0C892.3,1237.8 895.6,1248.7 899.2,1258.5C902.8,1268.3 906.4,1279.1 911.0,1287.9C915.6,1296.7 920.5,1304.0 926.7,1311.5C932.9,1319.0 941.4,1326.5 948.3,1333.0C955.2,1339.5 961.4,1344.9 967.9,1350.7C974.4,1356.5 980.6,1361.6 987.5,1368.0C994.4,1374.4 1002.2,1382.0 1009.1,1389.0C1016.0,1396.0 1021.5,1403.1 1028.7,1410.0C1035.9,1416.9 1044.5,1424.4 1052.3,1430.5C1060.1,1436.6 1067.6,1442.5 1075.8,1446.8C1084.0,1451.1 1088.9,1451.8 1101.2,1456.5C1113.5,1461.2 1133.3,1469.9 1149.4,1475.0C1165.5,1480.1 1181.6,1484.2 1197.7,1487.0C1213.8,1489.8 1229.9,1491.6 1246.0,1491.8C1262.1,1492.0 1278.1,1490.2 1294.2,1488.2C1310.3,1486.2 1327.6,1483.5 1342.4,1480.0C1357.2,1476.5 1367.3,1473.7 1383.0,1467.0C1398.7,1460.3 1421.5,1448.5 1436.5,1440.0C1451.5,1431.5 1460.7,1427.2 1472.7,1416.0C1484.8,1404.8 1498.8,1385.8 1508.8,1372.5C1518.8,1359.2 1525.0,1350.1 1533.0,1336.4C1541.0,1322.7 1549.0,1306.6 1557.0,1290.5C1565.0,1274.4 1574.0,1256.5 1581.2,1240.0C1588.5,1223.5 1594.5,1207.0 1600.5,1191.7C1606.5,1176.4 1611.4,1163.5 1617.4,1148.2C1623.4,1132.9 1628.9,1112.6 1636.7,1100.0C1644.5,1087.4 1657.2,1072.6 1664.0,1072.6C1670.8,1072.6 1673.4,1087.4 1677.7,1100.0C1682.0,1112.6 1686.1,1132.1 1689.7,1148.2C1693.3,1164.3 1696.6,1180.4 1699.4,1196.5C1702.2,1212.6 1704.2,1228.6 1706.6,1244.7C1709.0,1260.8 1711.5,1276.9 1713.9,1293.0C1716.3,1309.1 1718.6,1325.1 1721.0,1341.2C1723.4,1357.3 1725.5,1373.3 1728.3,1389.4C1731.1,1405.5 1734.4,1420.0 1738.0,1437.7C1741.6,1455.4 1746.8,1482.4 1750.0,1495.6C1753.2,1508.8 1754.2,1508.2 1757.0,1517.0C1759.8,1525.8 1763.0,1540.0 1766.6,1548.4C1770.2,1556.9 1774.5,1563.5 1778.7,1567.7C1782.9,1571.9 1787.6,1574.6 1792.0,1573.8C1796.4,1573.0 1801.0,1568.4 1805.2,1563.0C1809.4,1557.6 1813.7,1548.9 1817.3,1541.2C1820.9,1533.5 1823.8,1527.0 1827.0,1517.0C1830.2,1507.0 1833.4,1495.0 1836.6,1481.0C1839.8,1467.0 1843.0,1448.8 1846.2,1432.7C1849.4,1416.6 1852.7,1400.5 1855.9,1384.4C1859.1,1368.3 1863.1,1350.3 1865.5,1336.2C1867.9,1322.1 1868.8,1313.8 1870.4,1300.0C1872.0,1286.2 1872.8,1271.1 1875.2,1253.3C1877.6,1235.5 1882.2,1213.1 1884.8,1193.0C1887.4,1172.9 1888.7,1152.8 1890.9,1132.7C1893.1,1112.6 1895.8,1092.5 1898.0,1072.4C1900.2,1052.3 1902.4,1029.8 1904.0,1012.0C1905.6,994.1 1906.0,981.1 1907.6,965.3C1909.2,949.5 1911.7,933.1 1913.7,917.0C1915.7,900.9 1916.5,886.9 1919.5,868.8C1922.5,850.7 1927.2,822.8 1931.7,808.5C1936.2,794.2 1941.6,783.2 1946.2,783.2C1950.8,783.2 1955.5,794.2 1959.5,808.5C1963.5,822.8 1967.1,850.7 1970.5,868.8C1973.9,886.9 1977.2,900.9 1980.0,917.0C1982.8,933.1 1984.6,949.2 1987.2,965.3C1989.8,981.4 1993.1,999.7 1995.7,1013.5C1998.3,1027.3 2000.6,1034.4 2003.0,1048.2C2005.4,1062.0 2007.5,1080.4 2010.3,1096.5C2013.1,1112.6 2016.8,1128.6 2020.0,1144.7C2023.2,1160.8 2026.1,1176.9 2029.5,1193.0C2032.9,1209.1 2036.4,1225.1 2040.4,1241.2C2044.4,1257.3 2048.8,1273.3 2053.5,1289.4C2058.2,1305.5 2062.9,1322.7 2068.5,1337.7C2074.1,1352.7 2081.8,1367.8 2087.0,1379.6C2092.2,1391.4 2094.5,1398.8 2099.5,1408.5C2104.5,1418.2 2111.4,1429.0 2117.0,1437.5C2122.6,1446.0 2127.0,1452.8 2133.3,1459.2C2139.6,1465.6 2147.8,1472.6 2155.0,1476.0C2162.2,1479.4 2169.9,1480.1 2176.7,1479.7C2183.5,1479.3 2191.2,1477.1 2196.0,1473.7C2200.8,1470.3 2202.8,1463.7 2205.6,1459.2C2208.4,1454.8 2210.5,1451.2 2212.9,1447.0C2215.3,1442.8 2217.8,1438.0 2220.0,1434.0C2222.2,1430.0 2225.0,1424.8 2226.0,1423.0"/>
</g>
<text class="b" x="242.5" y="1708" text-anchor="middle">1</text>
<text class="b" x="417.3" y="1708" text-anchor="middle">1.5</text>
<text class="b" x="600.5" y="1708" text-anchor="middle">2</text>
<text class="b" x="776.4" y="1708" text-anchor="middle">2.5</text>
<text class="b" x="960.9" y="1708" text-anchor="middle">3</text>
<text class="b" x="1137.7" y="1708" text-anchor="middle">3.5</text>
<text class="b" x="1314.5" y="1708" text-anchor="middle">4</text>
<text class="b" x="1492.4" y="1708" text-anchor="middle">4.5</text>
<text class="b" x="1675.7" y="1708" text-anchor="middle">5</text>
<text class="b" x="1853.3" y="1708" text-anchor="middle">5.5</text>
<text class="b" x="2037.3" y="1708" text-anchor="middle">6</text>
<text class="b" x="2212.6" y="1708" text-anchor="middle">6.5</text>
<text class="b" x="221" y="75.0" text-anchor="end">100</text>
<text class="b" x="221" y="229.1" text-anchor="end">90</text>
<text class="b" x="221" y="387.5" text-anchor="end">80</text>
<text class="b" x="221" y="546.9" text-anchor="end">70</text>
<text class="b" x="221" y="705.9" text-anchor="end">60</text>
<text class="b" x="221" y="864.8" text-anchor="end">50</text>
<text class="b" x="221" y="1016.0" text-anchor="end">40</text>
<text class="b" x="221" y="1173.9" text-anchor="end">30</text>
<text class="b" x="221" y="1331.8" text-anchor="end">20</text>
<text class="b" x="221" y="1490.7" text-anchor="end">10</text>
<text class="b" x="221" y="1648.0" text-anchor="end">0</text>
<text class="b" x="929.1 972.7 1001.2 1045.7 1088.1 1131.6 1174.1 1219 1258.3" y="1800">Frequency</text>
<text class="b" x="1315.1 1339.7 1393.6 1442.3 1484.5" y="1800">(GHz)</text>
<text class="b" transform="translate(66.5,1193.5) rotate(-90)" x="10.3 62.4 103 144 186.7 214.4 259.2 280.9 302.5 346.4 389.6 409.8 437.4 477.6 498.9 519.5 564.4 586.1 614.8 674.7" y="0">Absorption ratio (%)</text>
<line x1="985" y1="165.5" x2="1204.2" y2="165.5" stroke="#ff0000" stroke-width="16"/>
<text class="th" transform="translate(1231.4,213.5) scale(1.065,0.99)" x="0" y="0">θ</text>
<text class="lg" style="stroke:#000;stroke-width:1.4px" transform="translate(1274.3,181.15) scale(0.985,0.8) translate(0,-181.65)" x="0" y="210.5">=</text>
<text class="lg" x="1323" y="210.5">0</text>
<text class="sup" x="1372.0" y="166.5">o</text>
<line x1="985.0" y1="313.9" x2="1035.9" y2="313.9" stroke="#0000ff" stroke-width="16"/>
<line x1="1051.4" y1="313.9" x2="1099.8" y2="313.9" stroke="#0000ff" stroke-width="16"/>
<line x1="1117.3" y1="313.9" x2="1165.9" y2="313.9" stroke="#0000ff" stroke-width="16"/>
<line x1="1181.7" y1="313.9" x2="1204.2" y2="313.9" stroke="#0000ff" stroke-width="16"/>
<text class="th" transform="translate(1231.4,362.0) scale(1.065,0.99)" x="0" y="0">θ</text>
<text class="lg" style="stroke:#000;stroke-width:1.4px" transform="translate(1274.3,329.65) scale(0.985,0.8) translate(0,-330.15)" x="0" y="359.0">=</text>
<text class="lg" x="1323" y="359.0">15</text>
<text class="sup" x="1420.5" y="315.0">o</text>
<line x1="985.0" y1="460.4" x2="1001.3" y2="460.4" stroke="#000" stroke-width="16"/>
<line x1="1019.4" y1="460.4" x2="1035.0" y2="460.4" stroke="#000" stroke-width="16"/>
<line x1="1052.0" y1="460.4" x2="1067.7" y2="460.4" stroke="#000" stroke-width="16"/>
<line x1="1084.0" y1="460.4" x2="1099.8" y2="460.4" stroke="#000" stroke-width="16"/>
<line x1="1117.3" y1="460.4" x2="1133.3" y2="460.4" stroke="#000" stroke-width="16"/>
<line x1="1150.4" y1="460.4" x2="1165.9" y2="460.4" stroke="#000" stroke-width="16"/>
<line x1="1181.7" y1="460.4" x2="1200.0" y2="460.4" stroke="#000" stroke-width="16"/>
<text class="th" transform="translate(1231.4,509.0) scale(1.065,0.99)" x="0" y="0">θ</text>
<text class="lg" style="stroke:#000;stroke-width:1.4px" transform="translate(1274.3,476.65) scale(0.985,0.8) translate(0,-477.15)" x="0" y="506.0">=</text>
<text class="lg" x="1323" y="506.0">30</text>
<text class="sup" x="1420.5" y="462.0">o</text>
<line x1="985.0" y1="602.0" x2="1035.9" y2="602.0" stroke="#ff00ff" stroke-width="16"/>
<line x1="1051.4" y1="602.0" x2="1067.7" y2="602.0" stroke="#ff00ff" stroke-width="16"/>
<line x1="1084.0" y1="602.0" x2="1133.3" y2="602.0" stroke="#ff00ff" stroke-width="16"/>
<line x1="1149.6" y1="602.0" x2="1165.9" y2="602.0" stroke="#ff00ff" stroke-width="16"/>
<line x1="1181.7" y1="602.0" x2="1204.2" y2="602.0" stroke="#ff00ff" stroke-width="16"/>
<circle cx="1100.3" cy="608" r="16" fill="#ff00ff"/>
<text class="th" transform="translate(1231.4,651.0) scale(1.065,0.99)" x="0" y="0">θ</text>
<text class="lg" style="stroke:#000;stroke-width:1.4px" transform="translate(1274.3,618.65) scale(0.985,0.8) translate(0,-619.15)" x="0" y="648.0">=</text>
<text class="lg" x="1323" y="648.0">45</text>
<text class="sup" x="1420.5" y="604.0">o</text>
<line x1="985" y1="749.6" x2="1204.2" y2="749.6" stroke="#aa0000" stroke-width="16"/>
<text class="th" transform="translate(1231.4,798.0) scale(1.065,0.99)" x="0" y="0">θ</text>
<text class="lg" style="stroke:#000;stroke-width:1.4px" transform="translate(1274.3,765.65) scale(0.985,0.8) translate(0,-766.15)" x="0" y="795.0">=</text>
<text class="lg" x="1323" y="795.0">60</text>
<text class="sup" x="1420.5" y="751.0">o</text>
<g fill="#000" stroke="none">
<rect x="324.4" y="92" width="35.6" height="6"/>
<rect x="574.8" y="338.8" width="38.3" height="5.8"/>
<rect x="304.7" y="420.3" width="43.8" height="6.2"/>
<rect x="325.5" y="204" width="13.1" height="136"/>
<polygon points="331.9,170.4 314,205.9 350,205.9"/>
<rect x="356" y="370.4" width="168" height="11.8"/>
<polygon points="558,376.4 522.4,358.4 522.4,394.3"/>
<rect x="396" y="282.2" width="9.5" height="81.5"/>
<polygon points="465.4,247.4 452,275.8 480,275.8"/>
</g>
<path d="M367,349.5 C392,348.5 418,343 439,333 C455,325 466,312 466,294 L466,274" fill="none" stroke="#000" stroke-width="9.6"/>
<ellipse cx="328.4" cy="371.8" rx="24.3" ry="31.3" fill="#fff" stroke="#000" stroke-width="11"/>
<path d="M311,350 L346,394 M346,350 L311,394" stroke="#000" stroke-width="11" fill="none"/>
<text class="s" x="321.5" y="157.6">E</text>
<text class="s" x="566" y="398.3">H</text>
<text class="s" x="301.5" y="481.3">K</text>
<text class="b" style="font-size:67px;stroke:#000;stroke-width:1.4px" transform="translate(487.8,327.6) scale(1.09,1)" x="0" y="0">θ</text>
</svg></body></html>
